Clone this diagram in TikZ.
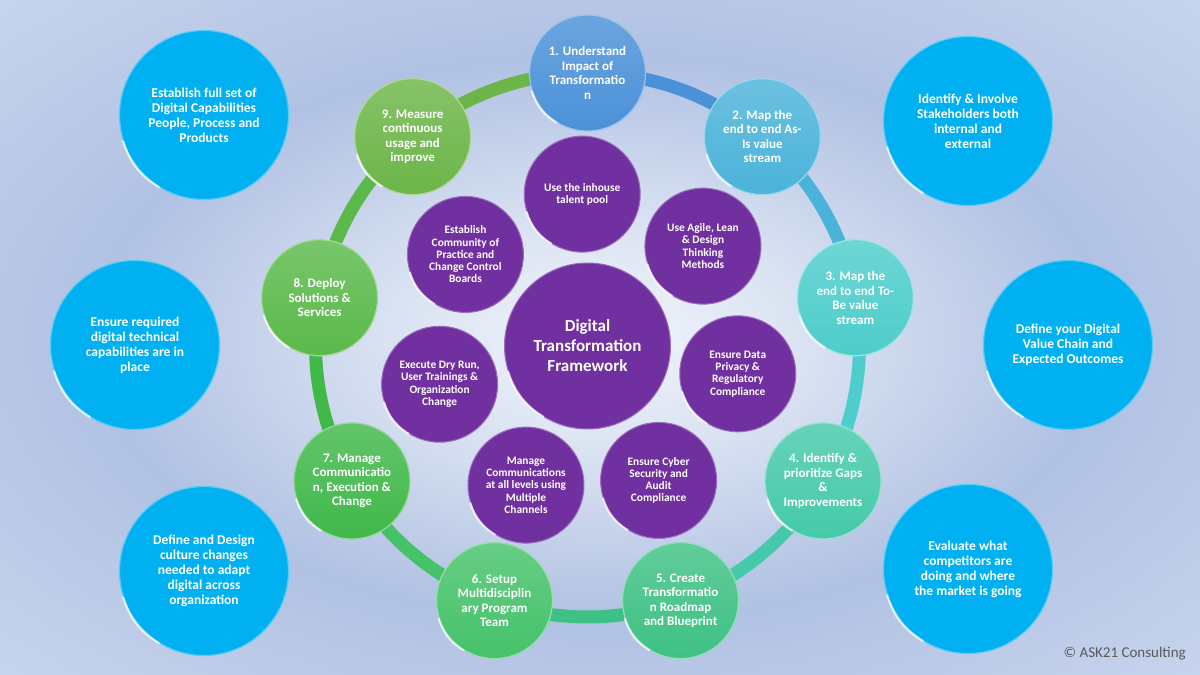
\documentclass[tikz,border=0pt]{standalone}
\usepackage{fontspec}
\setmainfont{Carlito}
\definecolor{bgA}{HTML}{F2F5FB}
\definecolor{bgB}{HTML}{DCE4F3}
\definecolor{bgC}{HTML}{C1CEE9}
\definecolor{bgD}{HTML}{B0C1E3}
\definecolor{bgE}{HTML}{B8C7E6}
\definecolor{bgF}{HTML}{C6D3ED}
\definecolor{cA}{HTML}{4B91D8}
\definecolor{cB}{HTML}{4BB3D9}
\definecolor{cC}{HTML}{4DCDCB}
\definecolor{cD}{HTML}{45C9AA}
\definecolor{cE}{HTML}{3EC184}
\definecolor{cF}{HTML}{45C26A}
\definecolor{cG}{HTML}{40B84A}
\definecolor{cH}{HTML}{5BB94A}
\definecolor{cI}{HTML}{6CB548}
\definecolor{purp}{HTML}{7030A0}
\definecolor{sky}{HTML}{00B0F0}
\definecolor{copy}{HTML}{595959}
\pgfdeclareradialshading{bgshade}{\pgfpoint{0bp}{0bp}}{color(0bp)=(bgA); color(8bp)=(bgB); color(16bp)=(bgC); color(21bp)=(bgD); color(25bp)=(bgE); color(35bp)=(bgF); color(50bp)=(bgF)}
\begin{document}
\begin{tikzpicture}[x=1pt,y=1pt,
  gloss/.style={append after command={(\tikzlastnode.198) edge[draw=white, line width=2pt, opacity=.75, line cap=round, bend right=20] (\tikzlastnode.238)}},
  ringnode/.style={circle, minimum size=116pt, inner sep=0pt, align=center, text=white,
    font=\fontsize{13}{14.5}\selectfont\bfseries, top color=#1!82!white, bottom color=#1,
    draw=#1!55!white, line width=1.2pt, gloss},
  innernode/.style={circle, minimum size=116pt, inner sep=0pt, align=center, text=white,
    font=\fontsize{11.4}{12.3}\selectfont\bfseries, fill=purp, draw=purp!70!white, line width=1pt, gloss},
  centernode/.style={circle, minimum size=166pt, inner sep=0pt, align=center, text=white,
    font=\fontsize{17}{20}\selectfont\bfseries, fill=purp, draw=purp!70!white, line width=1pt, gloss},
  outernode/.style={circle, minimum size=169pt, inner sep=0pt, align=center, text=white,
    font=\fontsize{13.5}{15}\selectfont\bfseries, fill=sky, draw=sky!65!white, line width=1.2pt, gloss},
  ringseg/.style={draw=#1, line width=13pt, bend left=20, looseness=0.88}
]
\useasboundingbox (0,0) rectangle (1200,675);
\shade[shading=bgshade] (0,0) rectangle (1200,675);

% ring positions
\coordinate (c) at (587.5,330);
\coordinate (p1) at ([shift={(587.5,330)}]90:272);
\coordinate (p2) at ([shift={(587.5,330)}]50:272);
\coordinate (p3) at ([shift={(587.5,330)}]10:272);
\coordinate (p4) at ([shift={(587.5,330)}]-30:272);
\coordinate (p5) at ([shift={(587.5,330)}]-70:272);
\coordinate (p6) at ([shift={(587.5,330)}]-110:272);
\coordinate (p7) at ([shift={(587.5,330)}]-150:272);
\coordinate (p8) at ([shift={(587.5,330)}]170:272);
\coordinate (p9) at ([shift={(587.5,330)}]130:272);

% ring segments
\draw[ringseg=cA] (p1) to (p2);
\draw[ringseg=cB] (p2) to (p3);
\draw[ringseg=cC] (p3) to (p4);
\draw[ringseg=cD] (p4) to (p5);
\draw[ringseg=cE] (p5) to (p6);
\draw[ringseg=cF] (p6) to (p7);
\draw[ringseg=cG] (p7) to (p8);
\draw[ringseg=cH] (p8) to (p9);
\draw[ringseg=cI] (p9) to (p1);

% ring nodes
\node[ringnode=cA] (n1) at (p1) {1. Understand\\Impact of\\Transformatio\\n};
\node[ringnode=cB] (n2) at (p2) {2. Map the\\end to end As-\\Is value\\stream};
\node[ringnode=cC] (n3) at (p3) {3. Map the\\end to end To-\\Be value\\stream};
\node[ringnode=cD] (n4) at (p4) {4. Identify \&\\prioritize Gaps\\\&\\Improvements};
\node[ringnode=cE] (n5) at (p5) {5. Create\\Transformatio\\n Roadmap\\and Blueprint};
\node[ringnode=cF] (n6) at (p6) {6. Setup\\Multidisciplin\\ary Program\\Team};
\node[ringnode=cG] (n7) at (p7) {7. Manage\\Communicatio\\n, Execution \&\\Change};
\node[ringnode=cH] (n8) at (p8) {8. Deploy\\Solutions \&\\Services};
\node[ringnode=cI] (n9) at (p9) {9. Measure\\continuous\\usage and\\improve};

% center
\node[centernode] (core) at (587.5,329) {Digital\\Transformation\\Framework};

% inner nodes
\node[innernode] (i1) at ([shift={(587.5,330)}]92:151) {Use the inhouse\\talent pool};
\node[innernode] (i2) at ([shift={(587.5,330)}]40.57:152) {Use Agile, Lean\\\& Design\\Thinking\\Methods};
\node[innernode] (i3) at ([shift={(587.5,330)}]-10.86:153) {Ensure Data\\Privacy \&\\Regulatory\\Compliance};
\node[innernode] (i4) at ([shift={(587.5,330)}]-62.29:153) {Ensure Cyber\\Security and\\Audit\\Compliance};
\node[innernode] (i5) at ([shift={(587.5,330)}]-113.71:153) {Manage\\Communications\\at all levels using\\Multiple\\Channels};
\node[innernode] (i6) at ([shift={(587.5,330)}]-165.14:153) {Execute Dry Run,\\User Trainings \&\\Organization\\Change};
\node[innernode] (i7) at ([shift={(587.5,330)}]143.43:152) {Establish\\Community of\\Practice and\\Change Control\\Boards};

% outer nodes
\node[outernode] (o1) at (204,560) {Establish full set of\\Digital Capabilities\\People, Process and\\Products};
\node[outernode] (o2) at (135,330) {Ensure required\\digital technical\\capabilities are in\\place};
\node[outernode] (o3) at (204,104) {Define and Design\\culture changes\\needed to adapt\\digital across\\organization};
\node[outernode] (o4) at (968,554) {Identify \& Involve\\Stakeholders both\\internal and\\external};
\node[outernode] (o5) at (1068,330) {Define your Digital\\Value Chain and\\Expected Outcomes};
\node[outernode] (o6) at (968,106) {Evaluate what\\competitors are\\doing and where\\the market is going};

% copyright
\node[anchor=base east, inner sep=0pt, text=copy, font=\fontsize{15}{18}\selectfont] (cr) at (1186,17) {© ASK21 Consulting};
\end{tikzpicture}
\end{document}
